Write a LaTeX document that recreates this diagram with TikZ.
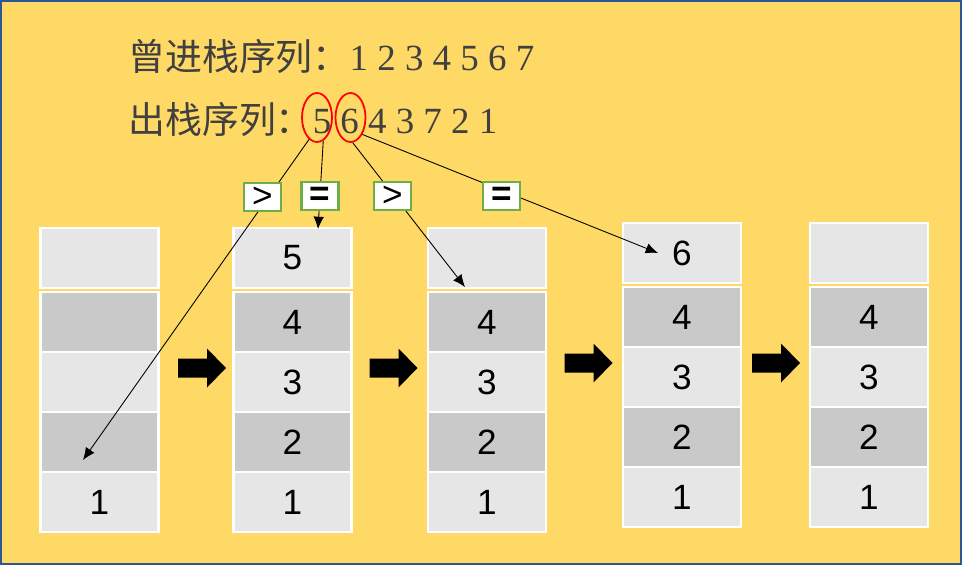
\documentclass[tikz,border=0pt]{standalone}
\usepackage{fontspec}
\setmainfont{Liberation Serif}
\newfontfamily\cjk{Noto Sans CJK SC}
\newfontfamily\digitfont{Liberation Sans}
\usetikzlibrary{arrows.meta,shapes.geometric}

\definecolor{slidebg}{HTML}{FFD966}
\definecolor{slideedge}{HTML}{2F5597}
\definecolor{celllight}{HTML}{E7E6E6}
\definecolor{celldark}{HTML}{C9C9C9}
\definecolor{cmpedge}{HTML}{70AD47}
\definecolor{hdrtext}{HTML}{404040}

\tikzset{
  cell/.style={rectangle,draw=white,line width=1.2pt,minimum width=2.36cm,
    minimum height=1.2cm,inner sep=0pt,font=\digitfont\fontsize{20}{24}\selectfont},
  lightcell/.style={cell,fill=celllight},
  darkcell/.style={cell,fill=celldark},
  cmp/.style={rectangle,draw=cmpedge,line width=1.2pt,fill=white,minimum width=0.74cm,
    minimum height=0.56cm,inner sep=0pt,font=\digitfont\fontsize{20}{24}\selectfont},
  oval/.style={ellipse,draw=red,line width=1pt,minimum width=0.6cm,
    minimum height=0.98cm,inner sep=0pt},
  hdr/.style={anchor=base west,inner sep=0pt,text=hdrtext,
    font=\fontsize{21}{25}\selectfont},
  link/.style={-{Latex[length=7pt,width=6pt]},line width=0.5pt},
}

\begin{document}
\begin{tikzpicture}[x=0.02cm,y=-0.02cm]
  \useasboundingbox (0,0) rectangle (962,565);
  \fill[slidebg] (0,0) rectangle (962,565);
  \draw[slideedge,line width=1.1pt] (1,1) rectangle (961,564);

  % stacks, top cell first
  \foreach \n/\cx/\top/\a/\b/\c/\d/\e in {
      1/99.5/228/{}/{}/{}/{}/1,
      2/292.5/228/5/4/3/2/1,
      3/487/228/{}/4/3/2/1,
      4/682/223/6/4/3/2/1,
      5/869/223/{}/4/3/2/1}{
    \node[lightcell] (s\n-1) at (\cx,\top+30) {\a};
    \node[darkcell] (s\n-2) at (\cx,\top+94) {\b};
    \node[lightcell] (s\n-3) at (\cx,\top+154) {\c};
    \node[darkcell] (s\n-4) at (\cx,\top+214) {\d};
    \node[lightcell] (s\n-5) at (\cx,\top+274) {\e};
  }

  % block arrows between stacks
  \foreach \ax/\ay in {202/368, 393.5/368, 588.5/363, 776/363}
    \fill (\ax-24,\ay-9.5) -- (\ax+5,\ay-9.5) -- (\ax+5,\ay-19.5) -- (\ax+24,\ay)
      -- (\ax+5,\ay+19.5) -- (\ax+5,\ay+9.5) -- (\ax-24,\ay+9.5) -- cycle;

  \node[hdr] (push) at (128,70) {{\cjk 曾进栈序列：}1 2 3 4 5 6 7};
  \node[hdr] (pop) at (128,133) {{\cjk 出栈序列：}5 6 4 3 7 2 1};

  \node[oval] (e5) at (317,117.5) {};
  \node[oval] (e6) at (350.5,117.5) {};

  \coordinate (t1) at (83,460);
  \coordinate (t2) at (318,229);
  \coordinate (t3) at (465,287);
  \coordinate (t4) at (658,253);

  \draw[link] (e5.-110) -- (t1);
  \draw[link] (e5.-75) -- (t2);
  \draw[link] (e6.-85) -- (t3);
  \draw[link] (e6.-55) -- (t4);

  \node[cmp] (g1) at (262.5,197) {>};
  \node[cmp] (g2) at (320,196) {\bfseries =};
  \node[cmp] (g3) at (392.5,196) {>};
  \node[cmp] (g4) at (501.5,196) {\bfseries =};
\end{tikzpicture}
\end{document}
